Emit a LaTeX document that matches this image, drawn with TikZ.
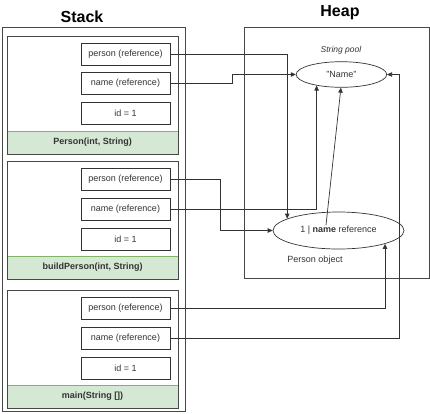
\documentclass[tikz,border=0pt]{standalone}
\usepackage{fontspec}
\setmainfont{Liberation Sans}
\usetikzlibrary{shapes.geometric,arrows.meta}
\definecolor{bandfill}{HTML}{D5E8D4}
\definecolor{bandline}{HTML}{82B366}
\definecolor{ink}{HTML}{333333}
\begin{document}
\begin{tikzpicture}[x=1pt,y=-1pt,
  field/.style={draw=ink, minimum width=89pt, minimum height=22pt, inner sep=0pt,
    font=\fontsize{9}{10}\selectfont, text=ink, line width=0.7pt},
  frame/.style={draw=ink!90, line width=0.8pt},
  band/.style={fill=bandfill, draw=bandline, line width=0.7pt},
  bandlabel/.style={font=\bfseries\fontsize{9}{10}\selectfont, text=ink},
  title/.style={font=\bfseries\fontsize{16}{18}\selectfont, text=black},
  obj/.style={ellipse, draw=ink, line width=0.7pt, inner sep=0pt, font=\fontsize{9}{10}\selectfont, text=ink},
  plain/.style={font=\fontsize{9}{10}\selectfont, text=ink},
  arr/.style={draw=ink, line width=0.7pt, -{Triangle[length=5pt,width=4.5pt]}}
]
\useasboundingbox (0,0) rectangle (430,413);

% titles
\node[title] (stackt) at (82,17) {Stack};
\node[title] (heapt) at (340,13) {Heap};

% outer boxes
\draw[frame] (2,27) rectangle (185,411);
\draw[frame] (244,27) rectangle (429,278);

% frame 1
\fill[bandfill] (7,131) rectangle (178,154);
\draw[bandline, line width=0.7pt] (7,131) -- (178,131);
\draw[frame] (7,36) rectangle (178,154);
\node[bandlabel] (f1) at (92.5,142.5) {Person(int, String)};
\node[field] (p1) at (125.5,54) {person (reference)};
\node[field] (n1) at (125.5,83.5) {name (reference)};
\node[field] (i1) at (125.5,113.5) {id = 1};

% frame 2
\fill[bandfill] (7,256) rectangle (178,279);
\draw[bandline, line width=0.7pt] (7,256) -- (178,256);
\draw[frame] (7,161) rectangle (178,279);
\node[bandlabel] (f2) at (92.5,267.5) {buildPerson(int, String)};
\node[field] (p2) at (125.5,179) {person (reference)};
\node[field] (n2) at (125.5,209) {name (reference)};
\node[field] (i2) at (125.5,239) {id = 1};

% frame 3
\fill[bandfill] (7,385) rectangle (178,408);
\draw[bandline, line width=0.7pt] (7,385) -- (178,385);
\draw[frame] (7,290) rectangle (178,408);
\node[bandlabel] (f3) at (92.5,396.5) {main(String [])};
\node[field] (p3) at (125.5,308) {person (reference)};
\node[field] (n3) at (125.5,338) {name (reference)};
\node[field] (i3) at (125.5,368) {id = 1};

% heap contents
\node[plain, font=\itshape\fontsize{8.5}{10}\selectfont] (pool) at (341,50) {String pool};
\node[obj, minimum width=90.6pt, minimum height=25.6pt] (sname) at (341.4,74.5) {"Name"};
\node[obj, minimum width=131pt, minimum height=37pt] (pobj) at (338.5,230.5) {1 | \textbf{name} reference};
\node[plain] (plabel) at (315,260) {Person object};
\coordinate (nref) at (326,225);

% connectors
\draw[arr] (p1.east) -| (pobj.167.5);
\draw[arr] (n1.east) -| (232,74.5) -- (sname.west);
\draw[arr] (p2.east) -| (220,230.5) -- (pobj.west);
\draw[arr] (n2.east) -| (sname.204.7);
\draw[arr] (nref) -- (sname.268);
\draw[arr] (p3.east) -| (pobj.344.4);
\draw[arr] (n3.east) -| (399.3,74.5) -- (sname.east);
\end{tikzpicture}
\end{document}
